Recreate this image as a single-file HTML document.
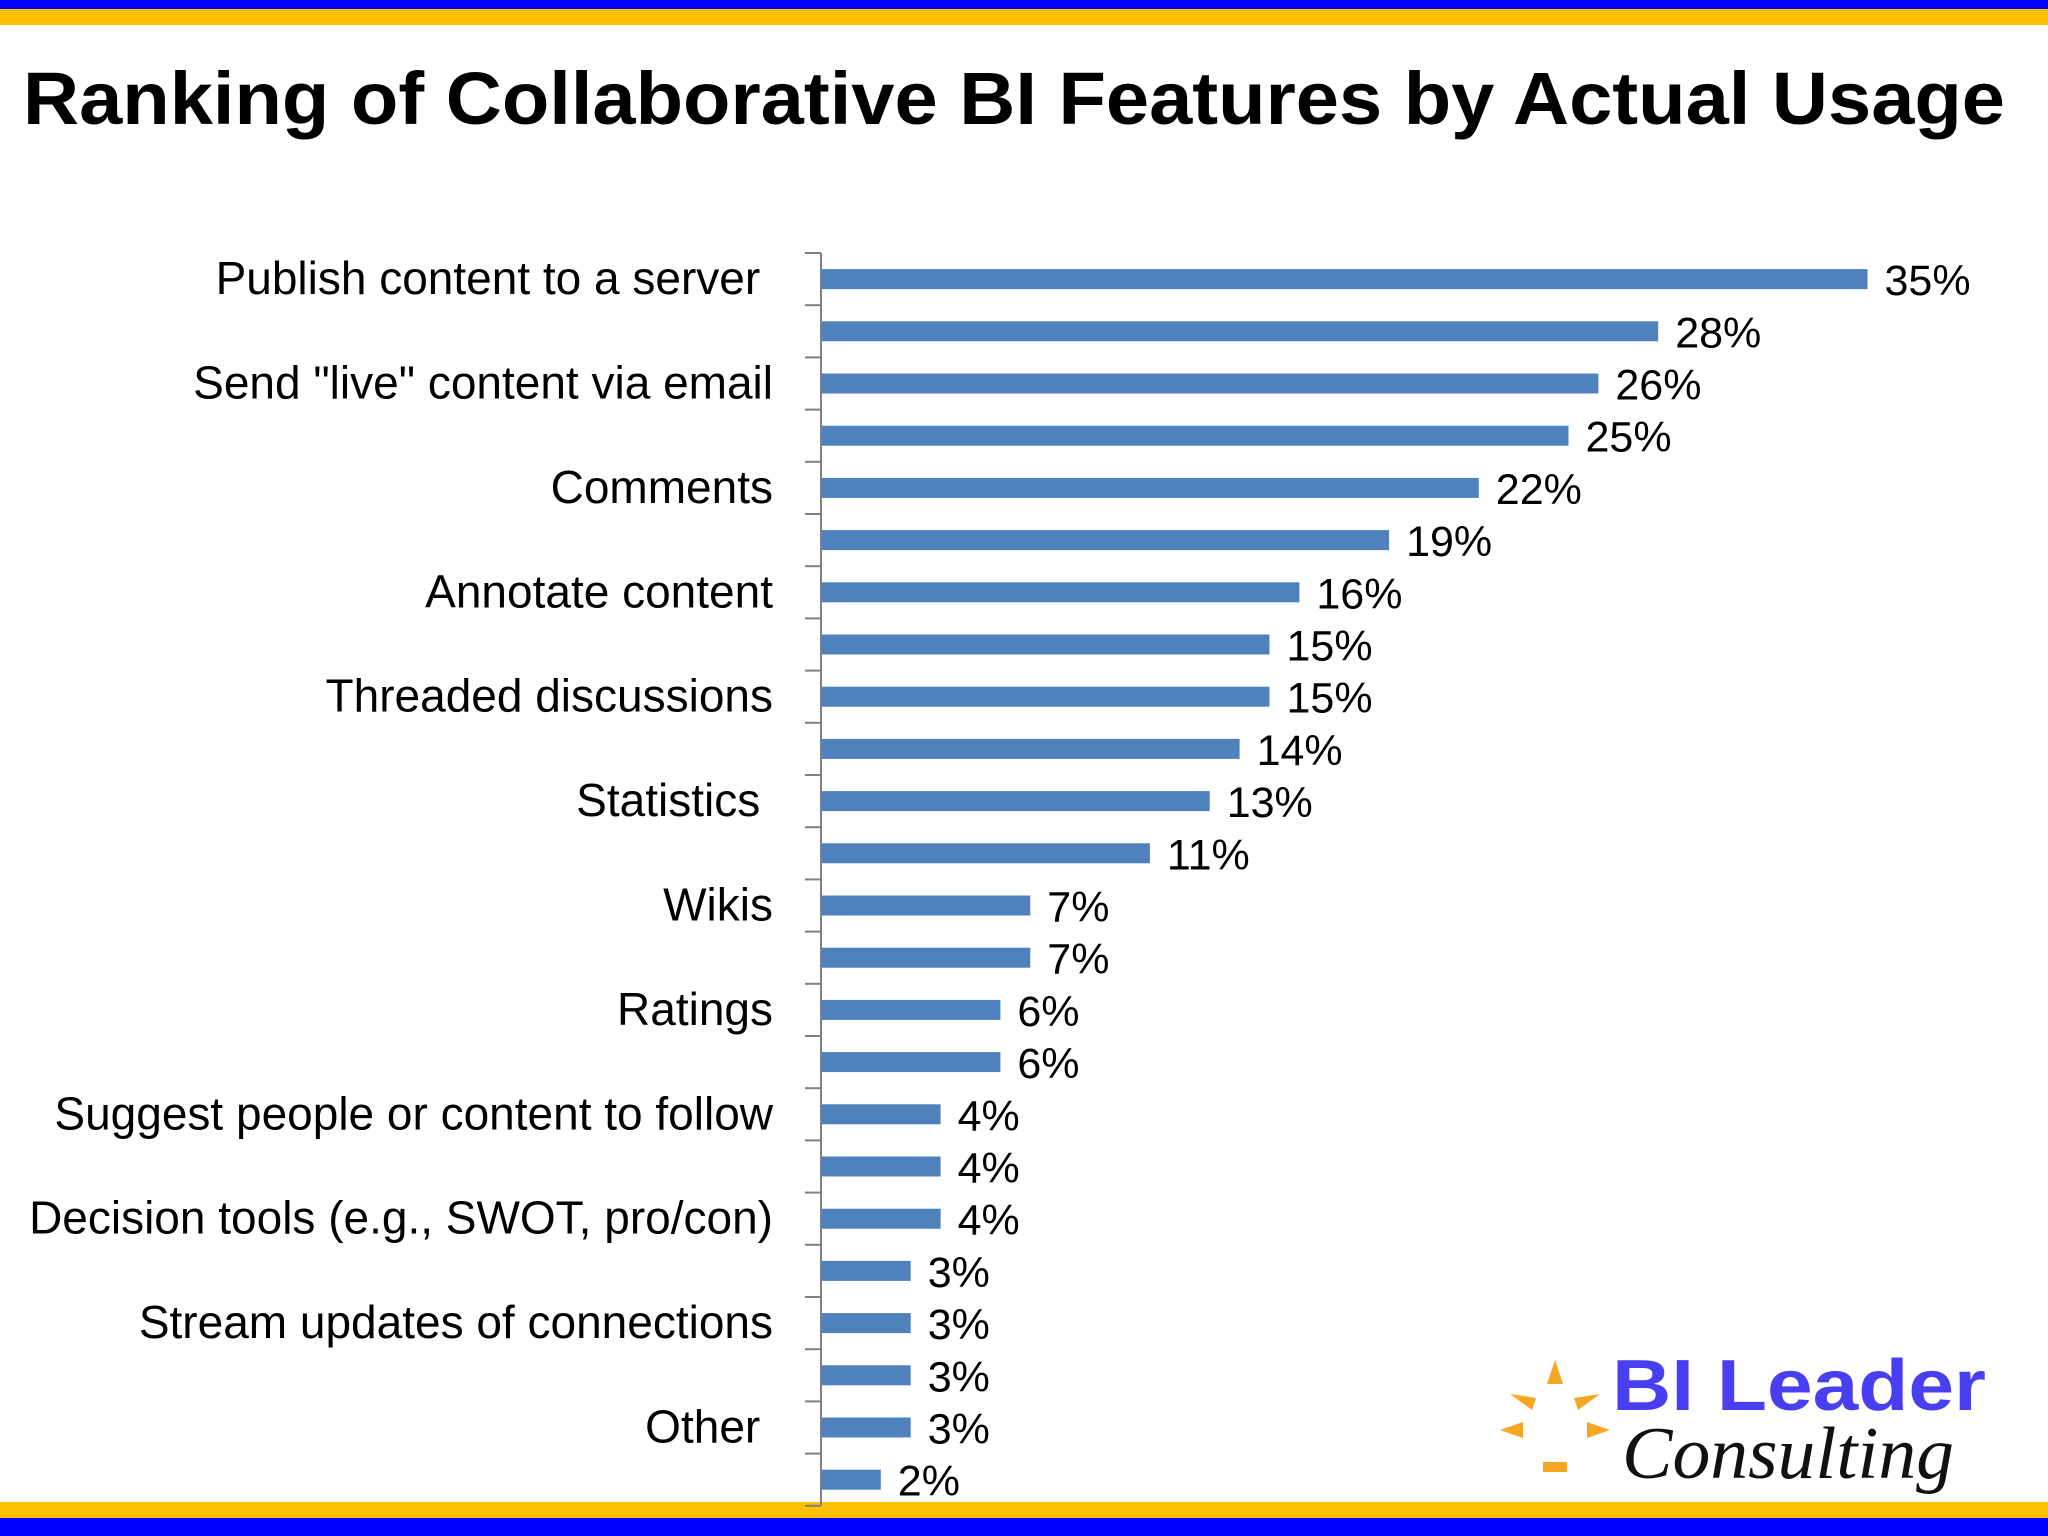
<!DOCTYPE html>
<html><head><meta charset="utf-8"><style>
html,body{margin:0;padding:0;background:#fff;}
svg{display:block;}
</style></head><body>
<svg id="chart" width="2048" height="1536" viewBox="0 0 2048 1536" xmlns="http://www.w3.org/2000/svg">
<rect x="0" y="0" width="2048" height="1536" fill="#fff"/>
<rect x="0" y="0" width="2048" height="9" fill="#0000ff"/>
<rect x="0" y="9" width="2048" height="16" fill="#ffc000"/>
<rect x="0" y="1502" width="2048" height="16" fill="#ffc000"/>
<rect x="0" y="1518" width="2048" height="18" fill="#0000ff"/>
<text x="23" y="124" font-family="Liberation Sans, sans-serif" font-weight="bold" font-size="74" textLength="1982" lengthAdjust="spacingAndGlyphs" fill="#000">Ranking of Collaborative BI Features by Actual Usage</text>
<g id="bars"></g>
<g id="axis"></g>
<g>
<g fill="#f5a623">
<polygon points="1555,1360 1547,1384 1563,1384"/>
<polygon points="1510,1394 1532,1410 1536,1398"/>
<polygon points="1600,1394 1578,1410 1574,1398"/>
<polygon points="1500,1430 1523,1422 1523,1438"/>
<polygon points="1610,1430 1587,1422 1587,1438"/>
<rect x="1543" y="1462" width="24" height="10"/>
</g>
<text x="1612" y="1410" font-family="Liberation Sans, sans-serif" font-weight="bold" font-size="72" fill="#4a3ff0" textLength="374" lengthAdjust="spacingAndGlyphs">BI Leader</text>
<text x="1622" y="1478" font-family="Liberation Serif, serif" font-style="italic" font-size="74" fill="#111" textLength="332" lengthAdjust="spacingAndGlyphs">Consulting</text>
</g>
</svg>
<script>
const categories = ["Publish content to a server ","","Send \"live\" content via email","","Comments","","Annotate content","","Threaded discussions","","Statistics ","","Wikis","","Ratings","","Suggest people or content to follow","","Decision tools (e.g., SWOT, pro/con)","","Stream updates of connections","","Other ",""];
const values = [35,28,26,25,22,19,16,15,15,14,13,11,7,7,6,6,4,4,4,3,3,3,3,2];
const valueLabels = ["35%","28%","26%","25%","22%","19%","16%","15%","15%","14%","13%","11%","7%","7%","6%","6%","4%","4%","4%","3%","3%","3%","3%","2%"];

const NS = "http://www.w3.org/2000/svg";
const axisX = 821, top0 = 253, band = 52.2, pxPer = 29.9, barH = 20;
const xScale = v => axisX + v * pxPer;
const yScale = i => top0 + i * band;
const bars = document.getElementById('bars');
const axis = document.getElementById('axis');

function mk(tag, attrs, parent){
  const e = document.createElementNS(NS, tag);
  for (const k in attrs) e.setAttribute(k, attrs[k]);
  parent.appendChild(e);
  return e;
}

const axLine = mk('line', {x1:axisX, y1:top0, x2:axisX, y2:yScale(values.length), stroke:'#808080', 'stroke-width':2}, axis);


for (let i = 0; i <= values.length; i++) {
  const t = mk('line', {x1:axisX-16, y1:yScale(i), x2:axisX, y2:yScale(i), stroke:'#808080', 'stroke-width':2}, axis);
  
  
}

values.forEach((v, i) => {
  const cy = yScale(i) + band / 2;
  const r = mk('rect', {x:axisX+1, y:cy - barH/2, width:xScale(v) - axisX - 1, height:barH, fill:'#4f81bd'}, bars);
  
  
  const t = mk('text', {x:xScale(v) + 17, y:cy + 16, 'font-family':'Liberation Sans, sans-serif', 'font-size':43, fill:'#000'}, bars);
  t.textContent = valueLabels[i];
  
  
  if (categories[i]) {
    const c = mk('text', {x:773, y:cy + 15, 'text-anchor':'end', 'font-family':'Liberation Sans, sans-serif', 'font-size':46, fill:'#000', 'xml:space':'preserve'}, axis);
    c.style.whiteSpace = 'pre';
    c.textContent = categories[i];
    
    
  }
});
</script>
</body></html>
